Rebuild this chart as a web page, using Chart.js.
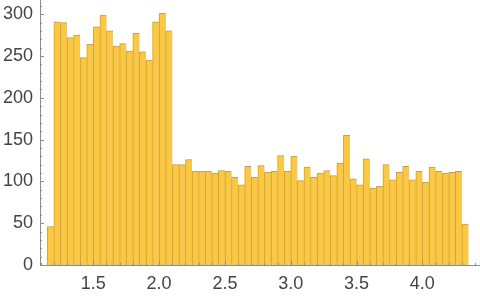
<!DOCTYPE html>
<html>
<head>
<meta charset="utf-8">
<script src="https://cdn.jsdelivr.net/npm/chart.js@4.4.1/dist/chart.umd.min.js"></script>
<style>
  html, body { margin: 0; padding: 0; background: #fff; }
  #wrap { width: 480px; height: 298px; }
</style>
</head>
<body>
<div id="wrap"><canvas id="hist"></canvas></div>
<script>
// histogram: 64 bins of width 0.05 starting at 1.15
var binStart = 1.15;
var binWidth = 0.05;
var counts = [
  46, 291, 290, 272, 275, 248, 264, 285, 299, 280,
  262, 265, 256, 277, 255, 245, 291, 301, 280, 120,
  120, 126, 112, 112, 112, 110, 113, 112, 105, 96,
  118, 105, 119, 111, 112, 131, 112, 130, 101, 117,
  105, 110, 113, 107, 122, 155, 103, 96, 127, 92,
  94, 120, 102, 111, 118, 102, 112, 99, 117, 112,
  110, 111, 112, 49
];

var xTicks = [1.5, 2.0, 2.5, 3.0, 3.5, 4.0];
var xTickLabels = ['1.5', '2.0', '2.5', '3.0', '3.5', '4.0'];
var yTicks = [0, 50, 100, 150, 200, 250, 300];
var yTickLabels = ['0', '50', '100', '150', '200', '250', '300'];

var barColor = '#fdc841';
var axisColor = '#8c8c8c';
var labelFont = { family: '"Liberation Sans", Arial, sans-serif', size: 18 };

var points = counts.map(function(c, i) {
  return { x: binStart + binWidth * (i + 0.5), y: c };
});

//small inward tick marks like the original
var axisTicks = {
  id: 'axisTicks',
  afterDatasetsDraw: function(chart) {
    var ctx = chart.ctx;
    var xs = chart.scales.x;
    var ys = chart.scales.y;
    var area = chart.chartArea;
    ctx.save();
    ctx.strokeStyle = axisColor;
    ctx.lineWidth = 1;
    ctx.beginPath();
    for (var v = 0; v <= 310; v += 10) {
      var py = Math.round(ys.getPixelForValue(v)) + 0.5;
      var len = v % 50 === 0 ? 4 : 2;
      ctx.moveTo(area.left, py);
      ctx.lineTo(area.left + len, py);
    }
    for (var i = 11; i <= 44; i++) {
      var px = Math.round(xs.getPixelForValue(i / 10)) + 0.5;
      var l = i % 5 === 0 ? 4 : 2;
      ctx.moveTo(px, area.bottom);
      ctx.lineTo(px, area.bottom - l);
    }
    ctx.stroke();
    ctx.restore();
  }
};

var ctx = document.getElementById('hist').getContext('2d');
var histChart = new Chart(ctx, {
  type: 'bar',
  data: {
    datasets: [{
      data: points,
      order: 1,
      grouped: false,
      backgroundColor: barColor,
      borderColor: 'rgba(110,95,60,0.4)',
      borderWidth: { top: 1, left: 1, right: 0, bottom: 0 },
      barPercentage: 1,
      categoryPercentage: 1
    }, {
      data: points,
      order: 2,
      grouped: false,
      backgroundColor: barColor,
      borderColor: '#cfcfcf',
      borderWidth: { top: 1, left: 0, right: 0, bottom: 0 },
      barPercentage: 1,
      categoryPercentage: 1
    }]
  },
  options: {
    responsive: true,
    maintainAspectRatio: false,
    animation: false,
    layout: { padding: 0 },
    plugins: { legend: { display: false }, tooltip: { enabled: false } },
    scales: {
      x: {
        type: 'linear',
        offset: false,
        min: 1.095,
        max: 4.438,
        grid: { display: false, drawTicks: false, offset: false },
        border: { display: true, color: axisColor, width: 1 },
        afterBuildTicks: function(scale) {
          scale.ticks = xTicks.map(function(v) { return { value: v }; });
        },
        ticks: {
          autoSkip: false,
          maxRotation: 0,
          padding: 8,
          color: '#444',
          font: labelFont,
          callback: function(value, index) { return xTickLabels[index]; }
        },
        afterFit: function(scale) {
          scale.height = 33;
          scale.paddingLeft = 0;
          scale.paddingRight = 0;
        }
      },
      y: {
        min: 0,
        max: 317,
        grid: { display: false, drawTicks: false },
        border: { display: true, color: axisColor, width: 1 },
        afterBuildTicks: function(scale) {
          scale.ticks = yTicks.map(function(v) { return { value: v }; });
        },
        ticks: {
          padding: 7,
          color: '#444',
          font: labelFont,
          callback: function(value, index) { return yTickLabels[index]; }
        },
        afterFit: function(scale) {
          scale.width = 40;
          scale.paddingTop = 0;
          scale.paddingBottom = 0;
        }
      }
    }
  },
  plugins: [axisTicks]
});
</script>
</body>
</html>
